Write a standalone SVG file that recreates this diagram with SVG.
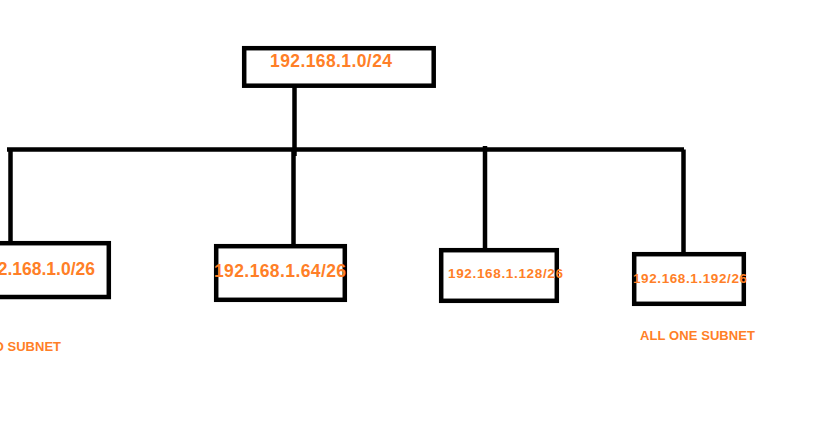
<svg xmlns="http://www.w3.org/2000/svg" width="817" height="429" viewBox="0 0 817 429">
<style>
.box{fill:none;stroke:#000;stroke-width:4.5}
.wire{stroke:#000;stroke-width:4.5;fill:none}
.lbl{font-family:"Liberation Sans",Arial,sans-serif;font-weight:bold;fill:#FF7F27}
</style>
<rect width="817" height="429" fill="#fff"/>
<g id="connectors">
<line class="wire" x1="294.5" y1="87" x2="294.5" y2="156"/>
<line class="wire" x1="7" y1="149.5" x2="684" y2="149.5"/>
<line class="wire" x1="10.5" y1="149.5" x2="10.5" y2="243"/>
<line class="wire" x1="293.5" y1="149.5" x2="293.5" y2="246"/>
<line class="wire" x1="485" y1="146" x2="485" y2="249"/>
<line class="wire" x1="683.5" y1="149.5" x2="683.5" y2="253"/>
</g>
<g id="root">
<rect class="box" x="244.2" y="48.2" width="189.5" height="37.5"/>
<text class="lbl" x="270" y="67" font-size="17.5" textLength="122">192.168.1.0/24</text>
</g>
<g id="subnet0">
<rect class="box" x="-10" y="243.2" width="118.8" height="53.8"/>
<text class="lbl" x="95" y="275" font-size="17.5" text-anchor="end">192.168.1.0/26</text>
</g>
<g id="subnet64">
<rect class="box" x="216.2" y="246.2" width="128.6" height="53.6"/>
<text class="lbl" x="214" y="277" font-size="17.5" textLength="132">192.168.1.64/26</text>
</g>
<g id="subnet128">
<rect class="box" x="441.2" y="250.2" width="115.6" height="50.6"/>
<text class="lbl" x="448" y="278" font-size="13.5" textLength="115">192.168.1.128/26</text>
</g>
<g id="subnet192">
<rect class="box" x="634.2" y="254.2" width="109.6" height="49.6"/>
<text class="lbl" x="633" y="283" font-size="13.5" textLength="114">192.168.1.192/26</text>
</g>
<g id="notes">
<text class="lbl" x="61" y="351" font-size="13" text-anchor="end">ALL ZERO SUBNET</text>
<text class="lbl" x="640" y="340" font-size="13" textLength="115">ALL ONE SUBNET</text>
</g>
</svg>
